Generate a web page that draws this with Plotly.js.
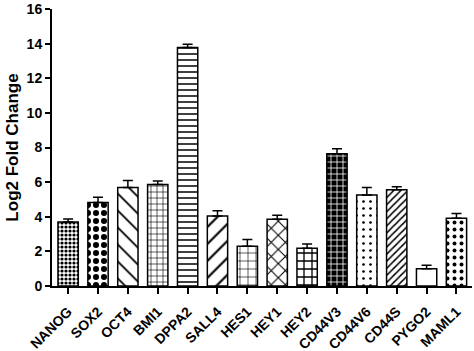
<!DOCTYPE html>
<html><head><meta charset="utf-8">
<script src="https://cdn.plot.ly/plotly-3.0.1.min.js"></script>
<style>html,body{margin:0;padding:0;background:#fff}#chart{width:474px;height:351px}</style>
</head><body><div id="chart"></div>
<script>
const genes = ["NANOG","SOX2","OCT4","BMI1","DPPA2","SALL4","HES1","HEY1","HEY2","CD44V3","CD44V6","CD44S","PYGO2","MAML1"];
const log2FC = [3.70, 4.82, 5.69, 5.87, 13.77, 4.05, 2.29, 3.86, 2.18, 7.64, 5.26, 5.56, 0.99, 3.92];
const errUp = [0.17, 0.30, 0.40, 0.20, 0.19, 0.29, 0.39, 0.23, 0.25, 0.29, 0.43, 0.17, 0.21, 0.27];
const yTicks = [0, 2, 4, 6, 8, 10, 12, 14, 16];

const shapes   = [".", ".", "\\", "+", "-", "/", "+", "x", "+", "+", ".", "/", "", "."];
const sizes    = [4, 8, 12, 6, 6, 12, 8, 10, 8, 6, 7, 5, 8, 7];
const solid    = [0.5, 0.45, 0.15, 0.2, 0.25, 0.18, 0.15, 0.2, 0.3, 0.25, 0.12, 0.3, 0.3, 0.25];
const fg = genes.map((g,i)=> i===9 ? "#fff" : "#000");
const bg = genes.map((g,i)=> i===9 ? "#000" : "#fff");

const trace = {
  type: "bar",
  x: genes,
  y: log2FC,
  width: 0.68,
  marker: {
    color: "#fff",
    line: {color: "#000", width: 1.5},
    pattern: {shape: shapes, size: sizes, solidity: solid, fgcolor: fg, bgcolor: bg, fillmode: "replace"}
  },
  error_y: {type: "data", symmetric: false, array: errUp, arrayminus: log2FC.map(()=>0), color: "#000", thickness: 1.5, width: 5}
};

const fam = "Arial, 'Liberation Sans', sans-serif";
const layout = {
  width: 474, height: 351,
  margin: {l: 52, r: 2, t: 9, b: 65},
  paper_bgcolor: "#fff", plot_bgcolor: "#fff",
  showlegend: false,
  font: {family: fam, color: "#000"},
  xaxis: {
    range: [-0.54, 13.52],
    showline: true, linecolor: "#000", linewidth: 2,
    ticks: "outside", ticklen: 6, tickwidth: 2, tickcolor: "#000",
    tickangle: -45,
    ticklabelstandoff: 4,
    tickfont: {family: fam, size: 14, weight: "bold", color: "#000"},
    showgrid: false, zeroline: false
  },
  yaxis: {
    range: [0, 16],
    tickvals: yTicks,
    showline: true, linecolor: "#000", linewidth: 2,
    ticks: "outside", ticklen: 5, tickwidth: 2, tickcolor: "#000",
    tickfont: {family: fam, size: 14, weight: "bold", color: "#000"},
    showgrid: false, zeroline: false,
    title: {text: "Log2 Fold Change", font: {family: fam, size: 17, weight: "bold", color: "#000"}, standoff: 4}
  }
};
Plotly.newPlot("chart", [trace], layout, {displayModeBar: false, staticPlot: true});
</script></body></html>
